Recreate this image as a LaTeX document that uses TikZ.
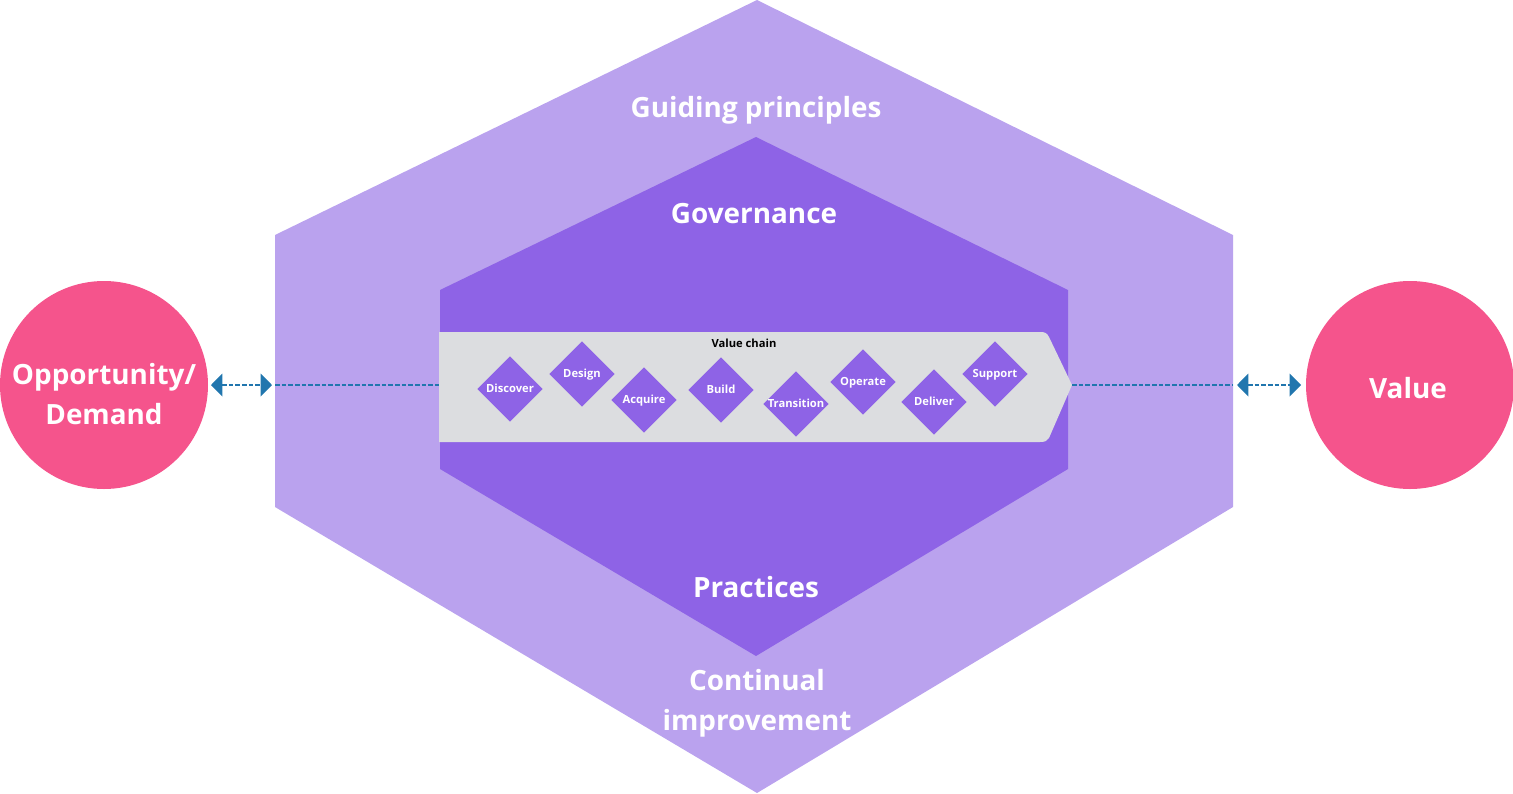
\documentclass[tikz,border=0pt]{standalone}
\usepackage{fontspec}
\setmainfont{Open Sans}
\usetikzlibrary{positioning, shapes.geometric, arrows.meta}
\definecolor{hexlight}{HTML}{BAA2EE}
\definecolor{hexdark}{HTML}{8E63E6}
\definecolor{bandgray}{HTML}{DCDDE0}
\definecolor{endpink}{HTML}{F5548C}
\definecolor{linkblue}{HTML}{2176AE}
\newcommand{\stepname}[1]{\makebox[0pt]{\raisebox{-2.4pt}[0pt][0pt]{#1}}}
\tikzset{
    every node/.style={font=\bfseries, text=white, align=center}, % all labels are white and bold
    endpoint/.style={circle, fill=endpink, minimum size=156pt, inner sep=0pt},
    layer/.style={font=\fontsize{20.9}{30}\bfseries\selectfont},
    stepbox/.style={diamond, fill=hexdark, minimum size=49pt, inner sep=0pt, font=\fontsize{8.4}{10}\bfseries\selectfont},
    link/.style={linkblue, dash pattern=on 3.6pt off 1.4pt, line width=1.2pt},
    arrowlink/.style={link, {Triangle[length=8.5pt, width=17pt]}-{Triangle[length=8.5pt, width=17pt]}},
}

\begin{document}
\begin{tikzpicture}[x=0.75pt, y=-0.75pt]
    \useasboundingbox (0,0) rectangle (1513,793);
    % the two hexagons
    \fill[hexlight] (757,0) -- (1233,235) -- (1233,507) -- (757,793) -- (275,507) -- (275,235) -- cycle;
    \fill[hexdark] (756,137) -- (1068,290) -- (1068,469) -- (756,656) -- (440,469) -- (440,290) -- cycle;
    % value chain band
    \fill[bandgray] (439,332) -- (1040,332) .. controls (1045,332) and (1047,333) .. (1049,337)
        -- (1072,385) -- (1049,438) .. controls (1047,441) and (1045,442) .. (1040,442) -- (439,442) -- cycle;
    % free ends of the connectors
    \coordinate (outerleft) at (275,385);
    \coordinate (outerright) at (1233,385);
    \coordinate (bandleft) at (439,385);
    \coordinate (bandtip) at (1072,385);
    \coordinate (demandend) at (211,385);
    \coordinate (outerleftend) at (272,385);
    \coordinate (outerrightend) at (1237,385);
    \coordinate (valueend) at (1301,385);

    \node[endpoint] (demand) at (104,385) {};
    \node[endpoint] (value) at (1410,385) {};
    \node[layer] (demandtext) at (104,394) {Opportunity/\\Demand};
    \node[layer] (valuetext) at (1408,388) {Value};

    \node[layer] (principles) at (756,110) {Guiding principles};
    \node[layer] (governance) at (754,214) {Governance};
    \node[layer] (practices) at (756,587) {Practices};
    \node[layer] (improvement) at (757,703) {Continual\\improvement};

    \node[font=\fontsize{8.4}{10}\bfseries\selectfont, text=black] (chain) at (744,343) {Value chain};
    \node[stepbox] (discover) at (510,389) {\stepname{Discover}};
    \node[stepbox] (design) at (582,374) {\stepname{Design}};
    \node[stepbox] (acquire) at (644,400) {\stepname{Acquire}};
    \node[stepbox] (build) at (721,390) {\stepname{Build}};
    \node[stepbox] (transition) at (796,404) {\stepname{Transition}};
    \node[stepbox] (operate) at (863,382) {\stepname{Operate}};
    \node[stepbox] (deliver) at (934,402) {\stepname{Deliver}};
    \node[stepbox] (support) at (995,374) {\stepname{Support}};

    \draw[arrowlink] (demandend) -- (outerleftend);
    \draw[link] (outerleft) -- (bandleft);
    \draw[link] (bandtip) -- (outerright);
    \draw[arrowlink] (outerrightend) -- (valueend);
\end{tikzpicture}
\end{document}
